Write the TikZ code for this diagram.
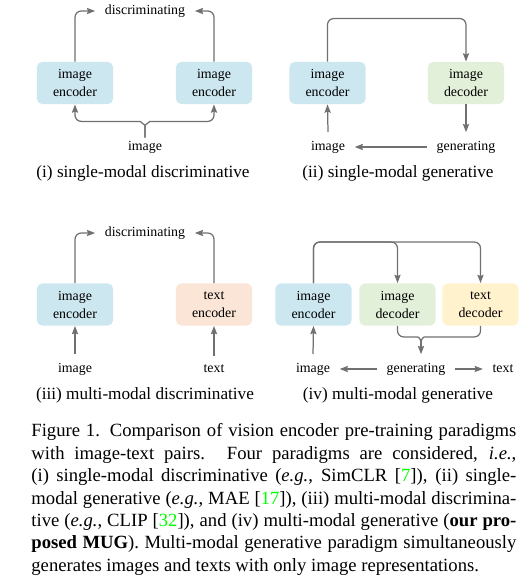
\documentclass[tikz,border=0pt]{standalone}
\usepackage{fontspec}
\setmainfont{Liberation Serif}
\usetikzlibrary{arrows.meta}
\definecolor{encblue}{HTML}{CCE7F0}
\definecolor{decgreen}{HTML}{E2EFD9}
\definecolor{txtorange}{HTML}{FBE5D6}
\definecolor{txtyellow}{HTML}{FFF2CC}
\definecolor{linegray}{HTML}{707070}
\definecolor{citegreen}{rgb}{0,1,0}
\tikzset{
  box/.style={rounded corners=2.5pt, minimum width=36.7pt, minimum height=20.3pt,
    align=center, inner sep=1pt, font=\fontsize{6.7}{8.7}\selectfont},
  lbl/.style={inner xsep=4.5pt, inner ysep=4pt, font=\fontsize{6.7}{8.7}\selectfont},
  sub/.style={inner sep=0pt, font=\fontsize{8.3}{10}\selectfont},
  conn/.style={draw=linegray, line width=0.6pt, rounded corners=3pt},
  arr/.style={conn, -{Stealth[length=4pt,width=3pt,inset=0.6pt]}},
}
\begin{document}
\begin{tikzpicture}[x=0.4825pt, y=-0.4825pt]
\useasboundingbox (0,0) rectangle (530,578);
% (i) single-modal discriminative
\node[box, fill=encblue] (P_1_encl) at (75,83) {image\\encoder};
\node[box, fill=encblue] (P_1_encr) at (214,83) {image\\encoder};
\node[lbl] (P_1_disc) at (145,11) {discriminating};
\node[lbl] (P_1_img) at (145,147) {image};
\draw[arr] (P_1_encl.north) |- (P_1_disc.west);
\draw[arr] (P_1_encr.north) |- (P_1_disc.east);
\draw[arr] ([yshift=-2.5pt]P_1_img.north) -- ++(0,-6) .. controls +(0,-6) and +(6,0) .. ++(-11,-10) -| (P_1_encl.south);
\draw[arr] ([yshift=-2.5pt]P_1_img.north) -- ++(0,-6) .. controls +(0,-6) and +(-6,0) .. ++(11,-10) -| (P_1_encr.south);
\node[sub] (P_1_cap) at (143,173) {(i) single-modal discriminative};
% (ii) single-modal generative
\node[box, fill=encblue] (P_2_enc) at (327.5,83) {image\\encoder};
\node[box, fill=decgreen] (P_2_dec) at (466,83) {image\\decoder};
\node[lbl] (P_2_img) at (328,147) {image};
\node[lbl] (P_2_gen) at (466,147) {generating};
\draw[arr] (P_2_enc.north) -- ++(0,-43) -| (P_2_dec.north);
\draw[arr] (P_2_dec.south) -- (P_2_gen.north);
\draw[arr] (P_2_gen.west) -- (P_2_img.east);
\draw[arr] (P_2_img.north) -- (P_2_enc.south);
\node[sub] (P_2_cap) at (398,173) {(ii) single-modal generative};
% (iii) multi-modal discriminative
\node[box, fill=encblue] (P_3_enc) at (75,304.5) {image\\encoder};
\node[box, fill=txtorange] (P_3_tenc) at (214,304.5) {text\\encoder};
\node[lbl] (P_3_disc) at (145,233) {discriminating};
\node[lbl] (P_3_img) at (75,369) {image};
\node[lbl] (P_3_txt) at (214,369) {text};
\draw[arr] (P_3_enc.north) |- (P_3_disc.west);
\draw[arr] (P_3_tenc.north) |- (P_3_disc.east);
\draw[arr] (P_3_img.north) -- (P_3_enc.south);
\draw[arr] (P_3_txt.north) -- (P_3_tenc.south);
\node[sub] (P_3_cap) at (145,395) {(iii) multi-modal discriminative};
% (iv) multi-modal generative
\node[box, fill=encblue] (P_4_enc) at (313.5,304.5) {image\\encoder};
\node[box, fill=decgreen] (P_4_idec) at (397.5,304.5) {image\\decoder};
\node[box, fill=txtyellow] (P_4_tdec) at (480.5,304.5) {text\\decoder};
\node[lbl] (P_4_img) at (313,369) {image};
\node[lbl] (P_4_gen) at (416,369) {generating};
\node[lbl] (P_4_txt) at (503,369) {text};
\coordinate (P_4_join) at (421,343);
\draw[arr] (P_4_enc.north) -- ++(0,-41) -| (P_4_tdec.north);
\draw[arr] (P_4_enc.north) -- ++(0,-41) -| (P_4_idec.north);
\draw[conn] (P_4_idec.south) |- ++(14,11) .. controls +(6,0) and +(0,-5) .. (P_4_join);
\draw[conn] (P_4_tdec.south) |- ++(-50,11) .. controls +(-6,0) and +(0,-5) .. (P_4_join);
\draw[arr] (P_4_join) -- (P_4_join |- P_4_gen.north);
\draw[arr] (P_4_gen.west) -- (P_4_img.east);
\draw[arr] (P_4_gen.east) -- (P_4_txt.west);
\draw[arr] (P_4_img.north) -- (P_4_enc.south);
\node[sub] (P_4_cap) at (398,395) {(iv) multi-modal generative};
% caption
\node[anchor=north west, inner sep=0pt, text width=234pt, align=justify,
  font=\fontsize{9}{10.85}\selectfont] (P_cap) at (31,423)
  {Figure 1. Comparison of vision encoder pre-training paradigms\linebreak
  with image-text pairs. Four paradigms are considered, \textit{i.e.},\linebreak
  (i) single-modal discriminative (\textit{e.g.}, SimCLR [\textcolor{citegreen}{7}]), (ii) single-\linebreak
  modal generative (\textit{e.g.}, MAE [\textcolor{citegreen}{17}]), (iii) multi-modal discrimina-\linebreak
  tive (\textit{e.g.}, CLIP [\textcolor{citegreen}{32}]), and (iv) multi-modal generative (\textbf{our pro-}\linebreak
  \textbf{posed MUG}). Multi-modal generative paradigm simultaneously\linebreak
  generates images and texts with only image representations.};
\end{tikzpicture}
\end{document}
